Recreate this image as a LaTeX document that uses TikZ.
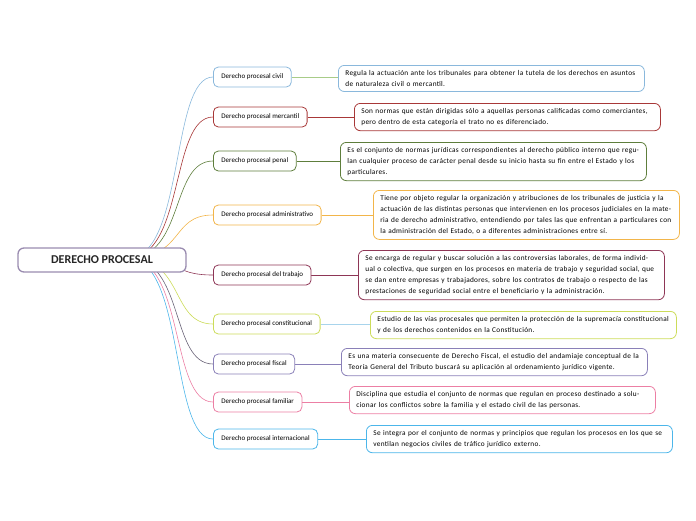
\documentclass[tikz,border=0pt]{standalone}
\usepackage{fontspec}
\setmainfont{Carlito}
\usetikzlibrary{positioning,backgrounds}

\definecolor{cCivil}{HTML}{8AB8DC}
\definecolor{cCivilL}{HTML}{A8CC88}
\definecolor{cMerc}{HTML}{A83838}
\definecolor{cPenal}{HTML}{5E7E3C}
\definecolor{cAdmin}{HTML}{F2B54A}
\definecolor{cTrab}{HTML}{8E3656}
\definecolor{cConst}{HTML}{CCDC5A}
\definecolor{cConstL}{HTML}{A8D4EC}
\definecolor{cFisc}{HTML}{8A80B8}
\definecolor{cFiscL}{HTML}{6A6478}
\definecolor{cFam}{HTML}{EC7FA4}
\definecolor{cInt}{HTML}{4CB6EA}
\definecolor{cRoot}{HTML}{9A8CB0}

\tikzset{
  rootbox/.style={draw=cRoot, fill=white, line width=1.3pt, rounded corners=6pt, minimum width=168pt,
    minimum height=24pt, font=\fontsize{12}{14}\selectfont\bfseries, text=black!85},
  branchbox/.style={draw=#1, fill=white, line width=0.8pt, rounded corners=5pt, minimum height=20pt,
    inner xsep=8pt, font=\fontsize{7}{9}\selectfont, anchor=west},
  descbox/.style={draw=#1, line width=0.8pt, rounded corners=6pt, text width=292pt,
    inner xsep=7pt, inner ysep=5pt, align=left,
    font=\fontsize{7.3}{11}\selectfont\addfontfeature{LetterSpace=4}\raggedright, anchor=north west},
  link/.style={draw=#1, line width=0.6pt}
}

\begin{document}
\begin{tikzpicture}[x=1pt,y=-1pt]
\useasboundingbox (0,0) rectangle (696,520);

\node[rootbox] (root) at (102,260) {DERECHO PROCESAL};
\coordinate (hub) at (128,258);

% ramas
\node[branchbox=cCivil] (civil) at (213,77) {Derecho procesal civil};
\node[branchbox=cMerc] (merc) at (213,117) {Derecho procesal mercantil};
\node[branchbox=cPenal] (penal) at (213,161) {Derecho procesal penal};
\node[branchbox=cAdmin] (admin) at (213,215) {Derecho procesal administrativo};
\node[branchbox=cTrab] (trab) at (213,275) {Derecho procesal del trabajo};
\node[branchbox=cConst] (const) at (213,324) {Derecho procesal constitucional};
\node[branchbox=cFisc] (fisc) at (213,364) {Derecho procesal fiscal};
\node[branchbox=cFam] (fam) at (213,402) {Derecho procesal familiar};
\node[branchbox=cInt] (inter) at (213,439) {Derecho procesal internacional};

% descripciones
\node[descbox=cCivil] (civilD) at (338,65) {Regula la actuación ante los tribunales para obtener la tutela de los derechos en asuntos de naturaleza civil o mercantil.};
\node[descbox=cMerc] (mercD) at (354,103) {Son normas que están dirigidas sólo a aquellas personas calificadas como comerciantes, pero dentro de esta categoría el trato no es diferenciado.};
\node[descbox=cPenal] (penalD) at (340,142) {Es el conjunto de normas jurídicas correspondientes al derecho público interno que regulan cualquier proceso de carácter penal desde su inicio hasta su fin entre el Estado y los particulares.};
\node[descbox=cAdmin] (adminD) at (373,190) {Tiene por objeto regular la organización y atribuciones de los tribunales de justicia y la actuación de las distintas personas que intervienen en los procesos judiciales en la materia de derecho administrativo, entendiendo por tales las que enfrentan a particulares con la administración del Estado, o a diferentes administraciones entre sí.};
\node[descbox=cTrab] (trabD) at (358,250) {Se encarga de regular y buscar solución a las controversias laborales, de forma individual o colectiva, que surgen en los procesos en materia de trabajo y seguridad social, que se dan entre empresas y trabajadores, sobre los contratos de trabajo o respecto de las prestaciones de seguridad social entre el beneficiario y la administración.};
\node[descbox=cConst] (constD) at (370,311) {Estudio de las vías procesales que permiten la protección de la supremacía constitucional y de los derechos contenidos en la Constitución.};
\node[descbox=cFisc] (fiscD) at (341,348) {Es una materia consecuente de Derecho Fiscal, el estudio del andamiaje conceptual de la Teoría General del Tributo buscará su aplicación al ordenamiento jurídico vigente.};
\node[descbox=cFam] (famD) at (349,386) {Disciplina que estudia el conjunto de normas que regulan en proceso destinado a solucionar los conflictos sobre la familia y el estado civil de las personas.};
\node[descbox=cInt] (interD) at (366,425) {Se integra por el conjunto de normas y principios que regulan los procesos en los que se ventilan negocios civiles de tráfico jurídico externo.};

% conectores
\begin{scope}[on background layer]
\foreach \n/\c in {civil/cCivil, merc/cMerc, penal/cPenal, admin/cAdmin, trab/cTrab,
                   const/cConst, fisc/cFiscL, fam/cFam, inter/cInt}
  \draw[link=\c] (hub) .. controls (185,258) and (170,0 |- \n.west) .. (\n.west);
\foreach \n/\c in {civil/cCivilL, merc/cMerc, penal/cPenal, admin/cAdmin, trab/cTrab,
                   const/cConstL, fisc/cFisc, fam/cFam, inter/cInt}
  \draw[link=\c] (\n.east) -- (\n.east -| \n D.west);
\end{scope}
\end{tikzpicture}
\end{document}
